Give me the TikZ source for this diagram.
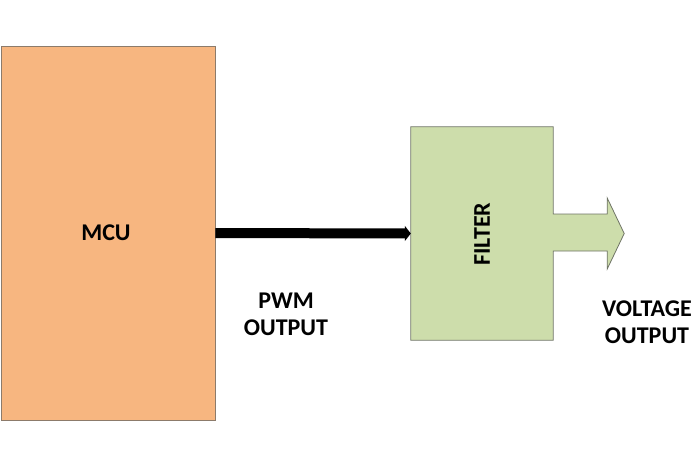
\documentclass[tikz,border=0pt]{standalone}
\usepackage{fontspec}
\setmainfont{Carlito}
\usetikzlibrary{arrows.meta,calc}
\definecolor{mcufill}{HTML}{F7B680}
\definecolor{mculine}{HTML}{8C7B6B}
\definecolor{filtfill}{HTML}{CDDDAB}
\definecolor{filtline}{HTML}{6F7466}
\tikzset{
  lbl/.style={font=\fontsize{24}{27}\selectfont\bfseries, align=center, text=black},
  blk/.style={rectangle, inner sep=0pt}
}
\begin{document}
\begin{tikzpicture}[x=1pt,y=-1pt]
\useasboundingbox (0,0) rectangle (700,467);
\node[blk, fill=mcufill, draw=mculine, line width=0.9pt, minimum width=214pt, minimum height=374pt] (mcu) at (108,233) {};
\node[lbl] (mcut) at (106,233) {MCU};
\node[blk, minimum width=142pt, minimum height=213pt] (filter) at (482,233.5) {};
\coordinate (a1) at ($(filter.east)+(0,-19.5)$);
\coordinate (a2) at ($(filter.east)+(54,-19.5)$);
\coordinate (a3) at ($(filter.east)+(54,-35.5)$);
\coordinate (tip) at ($(filter.east)+(71,0)$);
\coordinate (a5) at ($(filter.east)+(54,35.5)$);
\coordinate (a6) at ($(filter.east)+(54,17.5)$);
\coordinate (a7) at ($(filter.east)+(0,17.5)$);
\draw[fill=filtfill, draw=filtline, line width=0.8pt] (filter.north west) -- (filter.north east) -- (a1) -- (a2) -- (a3) -- (tip) -- (a5) -- (a6) -- (a7) -- (filter.south east) -- (filter.south west) -- cycle;
\node[lbl, rotate=90] (filtert) at (482,234) {FILTER};
\draw[line width=10pt, -{Triangle[length=6pt,width=15pt]}] (mcu.east) -- (filter.west);
\node[lbl] (pwm) at (286,314) {PWM\\OUTPUT};
\node[lbl] (vout) at (647,322) {VOLTAGE\\OUTPUT};
\end{tikzpicture}
\end{document}
